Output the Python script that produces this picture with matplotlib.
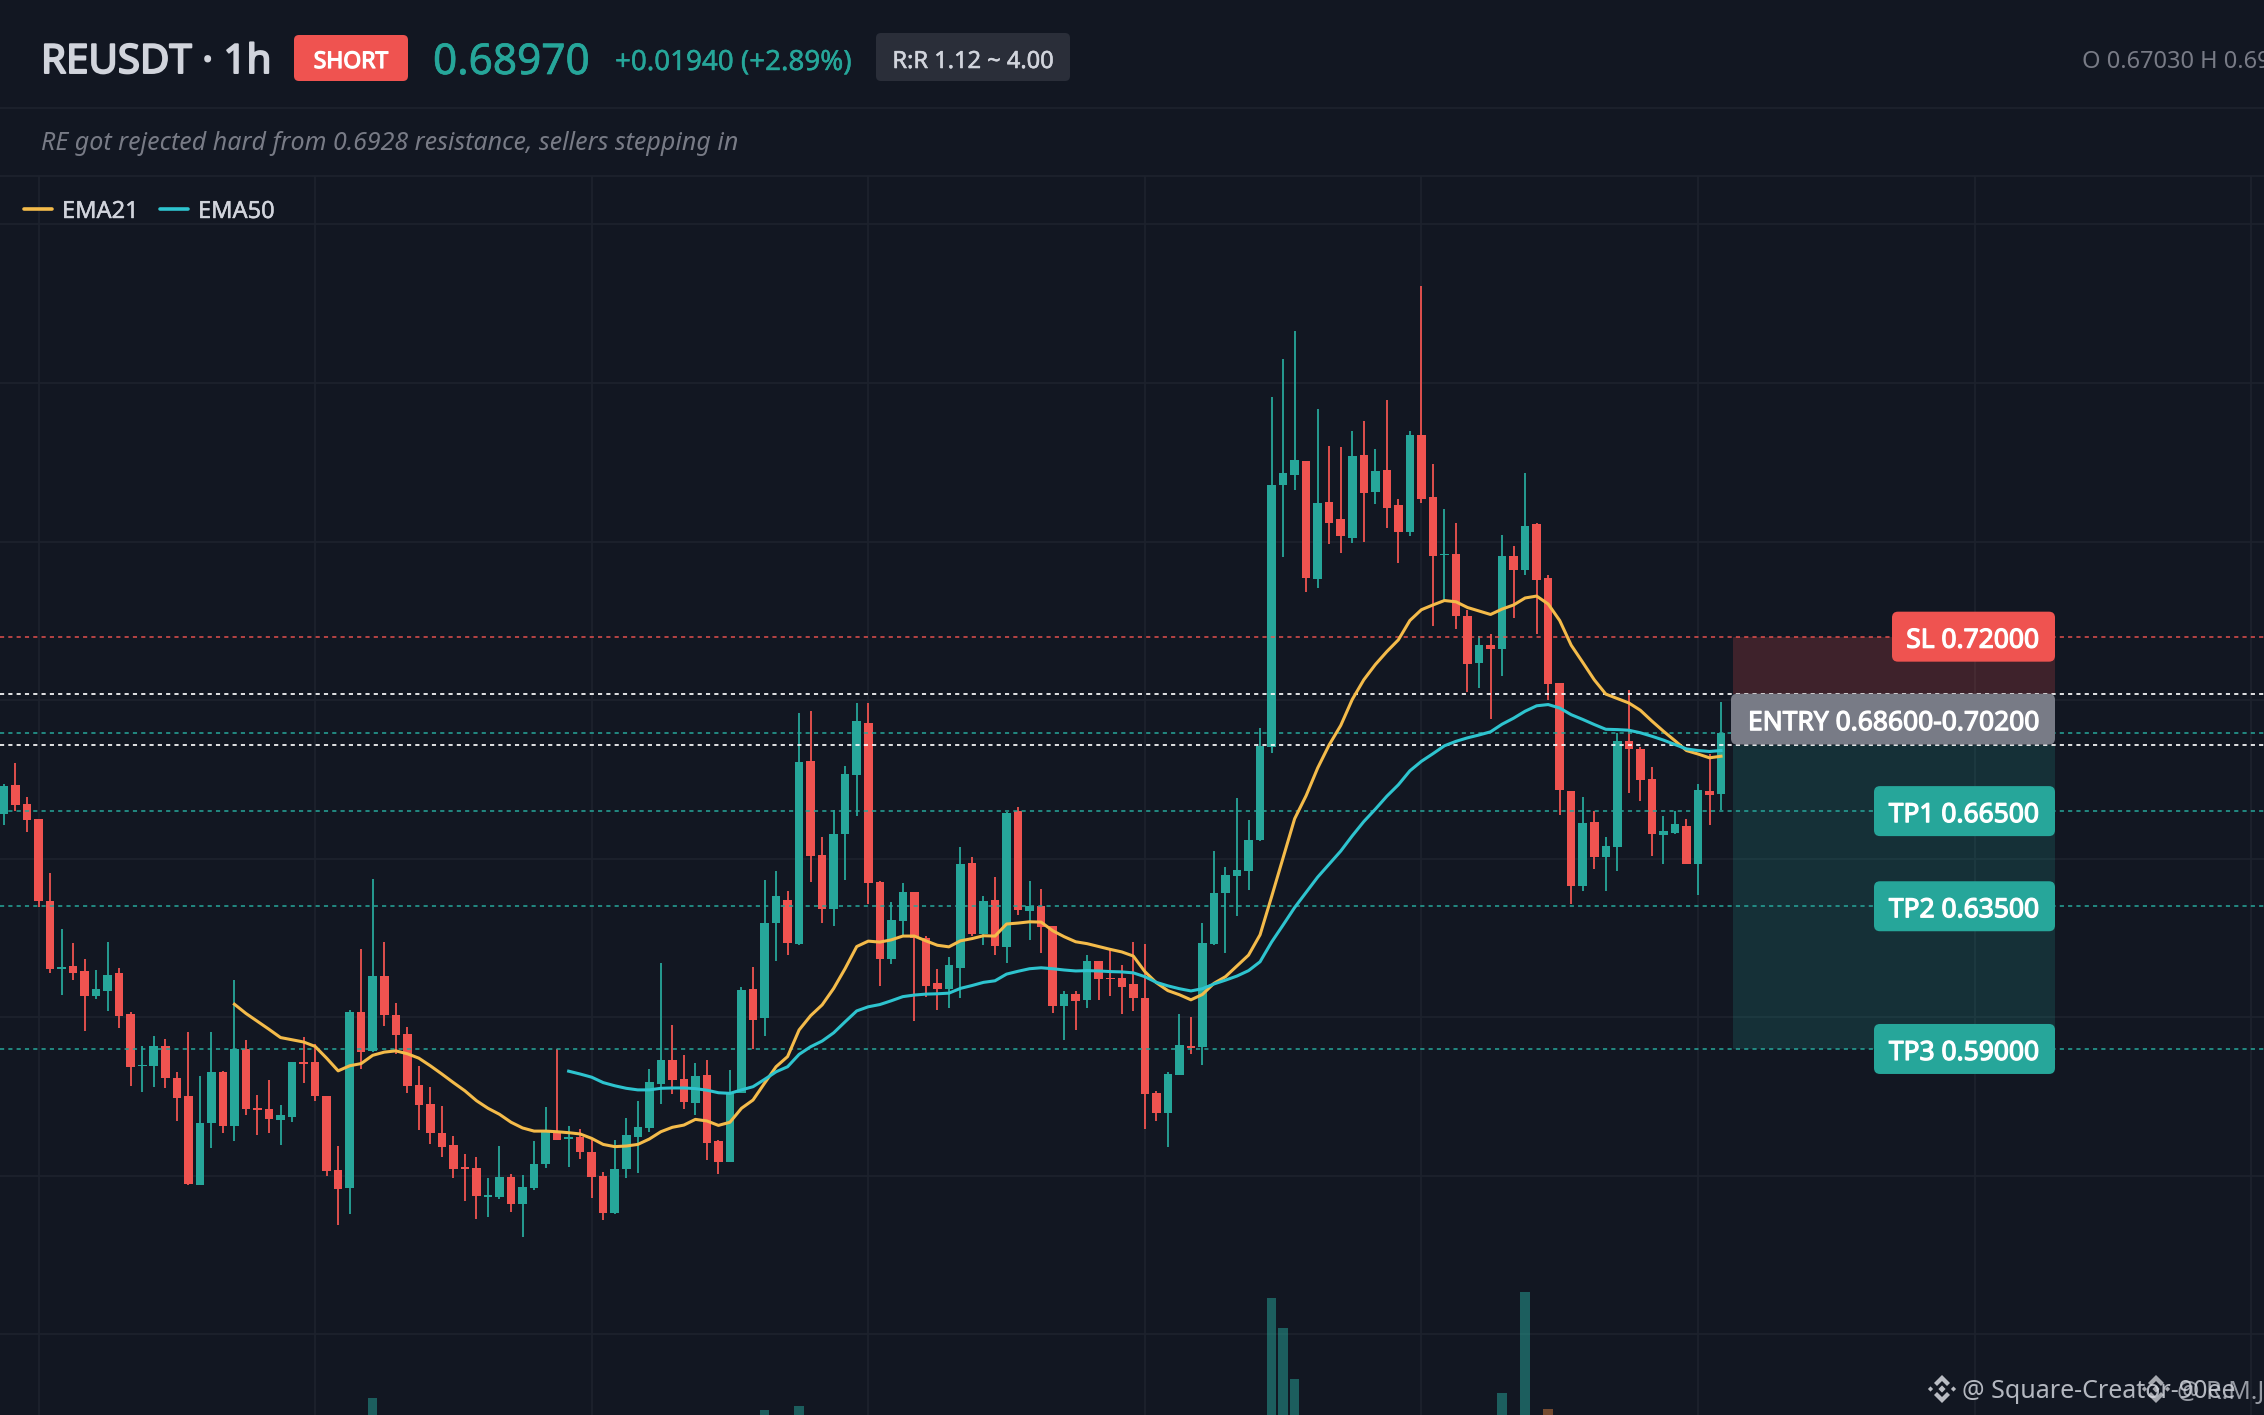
import numpy as np
from matplotlib import pyplot as plt
from matplotlib.patches import FancyBboxPatch, Polygon
import matplotlib.patheffects as pe

W, H = 2264, 1415
plt.rcParams['font.family'] = ['Noto Sans', 'DejaVu Sans']

opens = [
    .6641, .6732, .6671, .6625, .6368, .6153, .6161, .6145, .6067, .6083,
    .6140, .6010, .5845, .5847, .5909, .5809, .5751, .5472, .5668, .5827,
    .5657, .5900, .5714, .5710, .5676, .5685, .5858, .5858, .5751, .5518,
    .5462, .6016, .5894, .6130, .6007, .5947, .5786, .5726, .5635, .5597,
    .5527, .5525, .5434, .5433, .5496, .5411, .5462, .5538, .5635, .5615,
    .5621, .5574, .5499, .5383, .5522, .5623, .5650, .5790, .5865, .5805,
    .5730, .5818, .5610, .5545, .5762, .6089, .5999, .6297, .6370, .6230,
    .6808, .6512, .6341, .6579, .6764, .6928, .6428, .6184, .6304, .6395,
    .6249, .6108, .6090, .6155, .6486, .6262, .6370, .6222, .6650, .6336,
    .6351, .6288, .6036, .6073, .6055, .6177, .6125, .6124, .6105, .6061,
    .5761, .5698, .5818, .5910, .5906, .6232, .6393, .6445, .6462, .6559,
    .6852, .7678, .7711, .7754, .7381, .7624, .7570, .7511, .7772, .7656,
    .7726, .7615, .7529, .7836, .7641, .7456, .7460, .7266, .7117, .7173,
    .7162, .7455, .7410, .7555, .7385, .7054, .6714, .6414, .6615, .6505,
    .6537, .6872, .6845, .6751, .6574, .6582, .6602, .6483, .6712, .6703,
]
highs = [
    .6735, .6801, .6694, .6626, .6456, .6277, .6234, .6183, .6149, .6237,
    .6156, .6015, .5909, .5940, .5930, .5826, .5952, .5814, .5952, .5832,
    .6119, .5928, .5755, .5802, .5723, .5860, .5937, .5917, .5751, .5594,
    .6023, .6215, .6435, .6237, .6045, .5969, .5846, .5779, .5720, .5627,
    .5568, .5559, .5493, .5594, .5505, .5502, .5609, .5716, .5900, .5656,
    .5647, .5612, .5511, .5612, .5681, .5736, .5836, .6170, .5976, .5880,
    .5855, .5865, .5612, .5834, .6095, .6158, .6433, .6461, .6398, .6960,
    .6966, .6568, .6653, .6791, .6991, .6991, .6430, .6364, .6423, .6395,
    .6256, .6152, .6190, .6537, .6505, .6382, .6442, .6646, .6663, .6430,
    .6405, .6288, .6082, .6083, .6196, .6177, .6212, .6165, .6237, .6231,
    .5768, .5826, .6010, .6001, .6297, .6524, .6473, .6690, .6622, .6913,
    .7957, .8077, .8163, .7754, .7918, .7801, .7798, .7847, .7880, .7791,
    .7946, .7635, .7847, .8305, .7745, .7601, .7557, .7283, .7201, .7207,
    .7522, .7486, .7716, .7560, .7396, .7054, .6714, .6696, .6649, .6567,
    .6896, .7031, .6852, .6788, .6633, .6651, .6626, .6736, .6831, .6993,
]
lows = [
    .6606, .6649, .6583, .6347, .6140, .6070, .6117, .5956, .6059, .6019,
    .5967, .5783, .5763, .5780, .5777, .5674, .5472, .5471, .5589, .5635,
    .5609, .5692, .5629, .5635, .5597, .5669, .5793, .5737, .5501, .5345,
    .5380, .5837, .5891, .5972, .5885, .5761, .5644, .5600, .5559, .5493,
    .5420, .5364, .5371, .5427, .5385, .5306, .5456, .5525, .5613, .5528,
    .5553, .5430, .5362, .5381, .5494, .5510, .5639, .5727, .5758, .5712,
    .5692, .5550, .5507, .5544, .5761, .5900, .5941, .6177, .6196, .6228,
    .6427, .6297, .6288, .6433, .6633, .6357, .6099, .6168, .6260, .5988,
    .6065, .6023, .6029, .6061, .6256, .6228, .6196, .6171, .6323, .6244,
    .6203, .6014, .5928, .5960, .6029, .6055, .6067, .6010, .6020, .5648,
    .5673, .5591, .5817, .5884, .5850, .6228, .6202, .6320, .6401, .6557,
    .6834, .7451, .7664, .7341, .7354, .7492, .7463, .7495, .7497, .7618,
    .7542, .7432, .7519, .7623, .7233, .7317, .7224, .7026, .7038, .6941,
    .7076, .7259, .7396, .7209, .7000, .6639, .6357, .6398, .6468, .6398,
    .6461, .6708, .6682, .6509, .6483, .6578, .6482, .6387, .6606, .6655,
]
closes = [
    .6729, .6670, .6622, .6366, .6152, .6160, .6140, .6068, .6089, .6133,
    .6003, .5844, .5851, .5909, .5809, .5746, .5473, .5666, .5827, .5657,
    .5900, .5711, .5708, .5679, .5692, .5858, .5853, .5751, .5515, .5458,
    .6018, .5891, .6130, .6007, .5944, .5783, .5723, .5634, .5590, .5522,
    .5520, .5436, .5439, .5496, .5411, .5464, .5536, .5638, .5613, .5622,
    .5574, .5495, .5382, .5520, .5628, .5654, .5795, .5865, .5802, .5733,
    .5815, .5604, .5544, .5762, .6086, .5991, .6297, .6382, .6233, .6805,
    .6508, .6341, .6578, .6767, .6935, .6424, .6184, .6307, .6395, .6249,
    .6099, .6088, .6165, .6483, .6262, .6367, .6225, .6644, .6338, .6351,
    .6285, .6036, .6073, .6052, .6177, .6121, .6120, .6095, .6061, .5758,
    .5698, .5822, .5913, .5903, .6234, .6392, .6448, .6464, .6559, .6856,
    .7678, .7716, .7757, .7385, .7622, .7559, .7518, .7769, .7653, .7723,
    .7607, .7529, .7836, .7635, .7455, .7462, .7265, .7113, .7173, .7161,
    .7455, .7410, .7549, .7378, .7050, .6715, .6414, .6613, .6505, .6539,
    .6872, .6845, .6748, .6577, .6587, .6608, .6483, .6715, .6700, .6897,
]
ema21 = [
    .6041, .6012, .5987, .5962, .5936, .5929, .5922, .5908, .5871, .5831,
    .5847, .5854, .5880, .5890, .5894, .5885, .5871, .5847, .5821, .5794,
    .5768, .5737, .5713, .5694, .5669, .5651, .5641, .5641, .5639, .5636,
    .5632, .5618, .5599, .5592, .5594, .5599, .5616, .5639, .5653, .5660,
    .5678, .5673, .5659, .5669, .5713, .5739, .5792, .5844, .5876, .5960,
    .6005, .6039, .6091, .6154, .6223, .6240, .6237, .6244, .6256, .6256,
    .6241, .6227, .6222, .6241, .6248, .6257, .6256, .6294, .6297, .6301,
    .6300, .6273, .6254, .6238, .6232, .6223, .6214, .6206, .6193, .6144,
    .6109, .6084, .6071, .6055, .6072, .6107, .6128, .6162, .6196, .6260,
    .6380, .6503, .6626, .6699, .6786, .6859, .6920, .7002, .7064, .7112,
    .7153, .7190, .7251, .7285, .7300, .7314, .7310, .7292, .7281, .7270,
    .7287, .7300, .7322, .7328, .7303, .7251, .7173, .7119, .7064, .7019,
    .7005, .6991, .6968, .6934, .6902, .6872, .6841, .6830, .6818, .6823,
]
ema50 = [
    .5830, .5821, .5811, .5794, .5784, .5776, .5771, .5771, .5776, .5777,
    .5777, .5775, .5770, .5762, .5760, .5771, .5781, .5804, .5828, .5844,
    .5883, .5907, .5925, .5951, .5986, .6020, .6033, .6040, .6052, .6065,
    .6070, .6073, .6074, .6076, .6091, .6100, .6110, .6115, .6136, .6145,
    .6153, .6156, .6153, .6149, .6146, .6147, .6146, .6144, .6143, .6140,
    .6128, .6110, .6099, .6090, .6083, .6090, .6105, .6117, .6130, .6147,
    .6175, .6237, .6291, .6346, .6394, .6442, .6483, .6524, .6572, .6617,
    .6656, .6697, .6733, .6777, .6807, .6831, .6856, .6870, .6881, .6890,
    .6900, .6924, .6943, .6965, .6982, .6986, .6975, .6954, .6939, .6923,
    .6908, .6907, .6905, .6897, .6886, .6874, .6860, .6846, .6841, .6838, .6841,
]
vol_idx = [32, 66, 69, 110, 111, 112, 130, 132, 134]
vol_val = [17, 5, 9, 117, 87, 36, 22, 123, 6]
vol_up = [True, True, True, True, True, True, True, True, False]

sl_price = 0.72
entry_hi = 0.702
entry_lo = 0.686
last_price = 0.6897
tps = [0.665, 0.635, 0.59]
tp_names = ['TP1 0.66500', 'TP2 0.63500', 'TP3 0.59000']
grid_prices = [0.85, 0.80, 0.75, 0.70, 0.65, 0.60, 0.55, 0.50]
grid_idx = [3, 27, 51, 75, 99, 123, 147, 171, 195]

BG = '#121722'
GRID = '#1d222d'
UP = '#26a69a'
DOWN = '#ef5350'
TEXT = '#d1d4dc'
MUTED = '#787b86'

fig = plt.figure(figsize=(W / 100, H / 100), dpi=100, facecolor=BG)
ax = fig.add_axes([0, 0, 1, (H - 176) / H], facecolor=BG)
ax.set_xlim(-3.95 / 11.524, (W - 3.95) / 11.524)
ax.set_ylim(0.92075 - H * 0.00031531, 0.92075 - 176 * 0.00031531)
ax.axis('off')

for p in grid_prices:
    ax.axhline(p, color=GRID, lw=1.3, zorder=1)
for i in grid_idx:
    ax.axvline(i, color=GRID, lw=1.3, zorder=1)

# volume sits in its own axes, bottom of the pane is cut off by the image
vax = fig.add_axes(ax.get_position(), facecolor='none')
vax.set_xlim(ax.get_xlim())
vax.set_ylim(0, H - 176)
vax.axis('off')
vax.bar(vol_idx, vol_val, width=0.82, zorder=2,
        color=[UP if u else '#d9803f' for u in vol_up], alpha=0.5, lw=0)

# risk / reward boxes
ax.fill_between([150, 178], entry_hi, sl_price, color=DOWN, alpha=0.2, lw=0, zorder=2)
ax.fill_between([150, 178], tps[-1], entry_lo, color=UP, alpha=0.18, lw=0, zorder=2)

x = np.arange(len(opens))
o, h, l, c = map(np.array, (opens, highs, lows, closes))
colors = np.where(c >= o, UP, DOWN)
ax.vlines(x, l, h, colors=colors, lw=1.3, zorder=3)
ax.bar(x, np.abs(c - o), bottom=np.minimum(o, c), width=0.74, color=colors, lw=0, zorder=4)

dash = (0, (2.3, 2.3))
for p, col, a in [(sl_price, DOWN, 0.8), (entry_hi, '#ffffff', 0.95), (entry_lo, '#ffffff', 0.95),
                  (last_price, UP, 0.85), (tps[0], UP, 0.85), (tps[1], UP, 0.85), (tps[2], UP, 0.85)]:
    ax.axhline(p, color=col, alpha=a, lw=1.3, ls=dash, dash_capstyle='butt', zorder=5)

ax.plot(np.arange(150 - len(ema21), 150), ema21, color='#f4bb4a', lw=2.2, zorder=6)
ax.plot(np.arange(150 - len(ema50), 150), ema50, color='#2ec4cf', lw=2.2, zorder=6)

# everything in the header and the tags goes on a pixel overlay
top = fig.add_axes([0, 0, 1, 1], facecolor='none')
top.set_xlim(0, W)
top.set_ylim(H, 0)
top.axis('off')


def price_y(p):
    return H - ax.transData.transform((0, p))[1]


def box(x0, x1, y0, y1, col, r=6):
    top.add_patch(FancyBboxPatch((x0, y0), x1 - x0, y1 - y0, boxstyle='round,pad=0,rounding_size=%d' % r,
                                 fc=col, ec='none', zorder=7))


def label(x, y, s, col, size, w=0.0, **kw):
    # Noto Sans only comes in one weight here, so the heavier text gets a thin stroke
    t = top.text(x, y, s, color=col, fontsize=size, va='center', zorder=8, **kw)
    if w:
        t.set_path_effects([pe.withStroke(linewidth=w, foreground=col)])
    return t


def tag(text, p, x0, col):
    y = price_y(p)
    box(x0, 2055, y - 25, y + 25, col)
    label(2039, y + 4, text, 'white', 19, 0.9, ha='right')


def binance_icon(cx, cy, alpha):
    col = '#d8dae0'
    chev = np.array([(0, -14), (8, -6), (5, -3), (0, -8), (-5, -3), (-8, -6)])
    for sign in (1, -1):
        pts = chev * [1, sign] + [cx, cy]
        top.add_patch(Polygon(pts, fc=col, ec='none', alpha=alpha, zorder=9))
    for dx, r in [(-11.5, 2.6), (11.5, 2.6), (0, 3.6)]:
        pts = np.array([(0, -r), (r, 0), (0, r), (-r, 0)]) + [cx + dx, cy]
        top.add_patch(Polygon(pts, fc=col, ec='none', alpha=alpha, zorder=9))


top.plot([0, W], [107.7, 107.7], color=GRID, lw=1.3)
top.plot([0, W], [175.6, 175.6], color=GRID, lw=1.3)

label(41, 63, 'REUSDT · 1h', TEXT, 29, 1.4)
box(294, 408, 35, 81, DOWN, r=5)
label(351, 62, 'SHORT', 'white', 16.5, 0.9, ha='center')
label(433, 63, '0.68970', UP, 30.5, 0.5)
label(615, 63, '+0.01940 (+2.89%)', UP, 20, 0.3)
box(876, 1070, 33, 81, '#2a2e39', r=5)
label(973, 62, 'R:R 1.12 ~ 4.00', TEXT, 17, 0.4, ha='center')
label(2082, 62, 'O 0.67030 H 0.69930 L 0.66550 C 0.68970', MUTED, 17)
label(41, 144, 'RE got rejected hard from 0.6928 resistance, sellers stepping in', MUTED, 18, style='italic')

top.plot([24, 52], [209, 209], color='#f4bb4a', lw=2.6, solid_capstyle='round')
label(62, 212, 'EMA21', TEXT, 17, 0.3)
top.plot([160, 188], [209, 209], color='#2ec4cf', lw=2.6, solid_capstyle='round')
label(198, 212, 'EMA50', TEXT, 17, 0.3)

tag('SL 0.72000', sl_price, 1892, DOWN)
y0, y1 = price_y(entry_hi), price_y(entry_lo)
box(1731, 2055, y0, y1, MUTED)
label(2039, (y0 + y1) / 2 + 4, 'ENTRY 0.68600-0.70200', 'white', 19, 0.9, ha='right')
for name, p in zip(tp_names, tps):
    tag(name, p, 1874, UP)

binance_icon(1942, 1389, 0.85)
top.text(1962, 1392, '@ Square-Creator-90ee', color=TEXT, alpha=0.85, fontsize=18, va='center', zorder=9)
binance_icon(2156, 1389, 0.75)
top.text(2177, 1392, '@ R.M.J', color=TEXT, alpha=0.7, fontsize=18, va='center', zorder=9)

fig.savefig('out.png', dpi=100, facecolor=BG)
